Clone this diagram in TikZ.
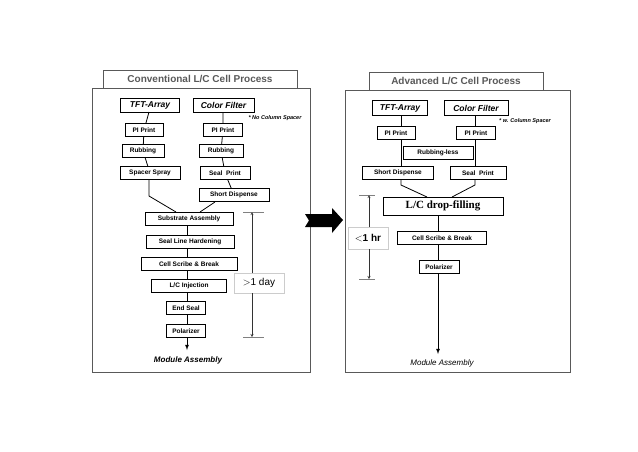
\documentclass[tikz,border=0pt]{standalone}
\usepackage{fontspec}
\setmainfont{Liberation Sans}
\newfontfamily\serifx{Liberation Serif}
\begin{document}
\begin{tikzpicture}[x=1pt,y=-1pt,
  box/.style={draw,line width=0.8pt,fill=white,inner sep=0pt,minimum height=13pt,font=\bfseries\fontsize{6.5}{7}\selectfont},
  big/.style={box,minimum height=14pt,font=\bfseries\itshape\fontsize{8.5}{9}\selectfont},
  ln/.style={line width=0.8pt},
  frame/.style={draw,line width=0.6pt,gray!70!black}]
\useasboundingbox (0,0) rectangle (638,451);
% frames
\draw[frame] (92,88) rectangle (310,372);
\node[frame,fill=white,minimum width=194pt,minimum height=18pt,font=\bfseries\fontsize{10}{11}\selectfont] (t1) at (200,79) {Conventional L/C Cell Process};
\draw[frame] (345,90) rectangle (570,372);
\node[frame,fill=white,minimum width=174pt,minimum height=18pt,font=\bfseries\fontsize{10}{11}\selectfont] (t2) at (456,81) {Advanced L/C Cell Process};
% left
\node[big,minimum width=59pt] (a1) at (150,105) {TFT-Array};
\node[big,minimum width=61pt] (c1) at (223.5,105) {Color Filter};
\node[font=\bfseries\itshape\fontsize{5.5}{6}\selectfont] (n1) at (275,118) {* No Column Spacer};
\node[box,minimum width=38pt] (pa) at (144,130) {PI Print};
\node[box,minimum width=39pt] (pc) at (223,130) {PI Print};
\node[box,minimum width=42pt] (ra) at (143,151) {Rubbing};
\node[box,minimum width=44pt] (rc) at (221,151) {Rubbing};
\node[box,minimum width=60pt] (sp) at (150,173) {Spacer Spray};
\node[box,minimum width=50pt] (sl) at (225,173) {Seal\ \ Print};
\node[box,minimum width=70pt] (sd) at (234,195) {Short Dispense};
\node[box,minimum width=88pt] (sa) at (189,219) {Substrate Assembly};
\node[box,minimum width=88pt] (sh) at (190,242) {Seal Line Hardening};
\node[box,minimum width=96pt] (cs) at (189,264) {Cell Scribe \& Break};
\node[box,minimum width=75pt] (li) at (189,286) {L/C Injection};
\node[box,minimum width=39pt] (es) at (186,308) {End Seal};
\node[box,minimum width=39pt] (po) at (186,331) {Polarizer};
\node[font=\bfseries\itshape\fontsize{8}{9}\selectfont] (ma) at (188,360) {Module Assembly};
\node[draw=gray!40,fill=white,minimum width=50pt,minimum height=20pt,font=\fontsize{10}{11}\selectfont] (d1) at (259,283) {$>$1 day};
\begin{scope}[on background layer/.style={}]
\end{scope}
\draw[ln] (149,112) -- (pa) (pa) -- (ra) (ra) -- (sp);
\draw[ln] (223,112) -- (pc) (pc) -- (rc) (rc) -- (sl) (sl) -- (sd);
\coordinate (l1) at (149,196); \coordinate (l2) at (176,212); \coordinate (r2) at (200,212);
\draw[ln] (sp.south -| l1) -- (l1) -- (l2);
\draw[ln] (215,202) -- (r2);
\draw[ln] (187,226) -- (187,235) (187,249) -- (187,257) (187,271) -- (187,279) (187,293) -- (187,301) (187,315) -- (187,324);
\coordinate (ae) at (187,350);
\draw[ln,-latex] (187,338) -- (ae);
\coordinate (tt1) at (252,212); \coordinate (tb1) at (252,337);
\draw[gray] (243,212) -- (264,212) (243,337) -- (264,337);
\draw[-stealth,gray!40!black] (252,273) -- (tt1);
\draw[-stealth,gray!40!black] (252,293) -- (tb1);
% big arrow
\fill[black] (305,214) -- (332,214) -- (332,208) -- (343,220) -- (332,233) -- (332,227) -- (305,227) -- (309,220.5) -- cycle;
% right
\node[big,minimum width=55pt,minimum height=15pt] (a2) at (400,108) {TFT-Array};
\node[big,minimum width=64pt,minimum height=15pt] (c2) at (476,108) {Color Filter};
\node[font=\bfseries\itshape\fontsize{5.5}{6}\selectfont] (n2) at (525,121) {* w. Column Spacer};
\node[box,minimum width=38pt] (qa) at (396,133) {PI Print};
\node[box,minimum width=39pt] (qc) at (476,133) {PI Print};
\node[box,minimum width=70pt] (rl) at (438,153) {Rubbing-less};
\node[box,minimum width=71pt] (sd2) at (398,173) {Short Dispense};
\node[box,minimum width=56pt] (sl2) at (478,173) {Seal\ \ Print};
\node[draw,line width=0.8pt,fill=white,minimum width=120pt,minimum height=18pt,font=\serifx\bfseries\fontsize{11}{12}\selectfont] (df) at (443,206) {L/C drop-filling};
\node[box,minimum width=89pt] (cs2) at (442,238) {Cell Scribe \& Break};
\node[box,minimum width=40pt] (po2) at (439,267) {Polarizer};
\node[font=\itshape\fontsize{8}{9}\selectfont] (ma2) at (442,363) {Module Assembly};
\node[draw=gray!40,fill=white,minimum width=40pt,minimum height=22pt,font=\bfseries\fontsize{10}{11}\selectfont] (h1) at (368,238) {$<$1 hr};
\draw[ln] (401,115.5) -- (qa.north -| 401,0) (401,140) -- (401,166);
\draw[ln] (475,115.5) -- (475,126.5) (475,140) -- (475,166);
\coordinate (m1) at (401,185); \coordinate (m2) at (427,197); \coordinate (m3) at (475,185); \coordinate (m4) at (452,197);
\draw[ln] (401,180) -- (m1) -- (m2);
\draw[ln] (475,180) -- (m3) -- (m4);
\draw[ln] (438,215) -- (cs2.north -| 438,0) (438,245) -- (438,260.5);
\coordinate (ae2) at (438,354);
\draw[ln,-latex] (438,273.5) -- (ae2);
\coordinate (tt2) at (369,195); \coordinate (tb2) at (369,279);
\draw[gray] (359,195) -- (375,195) (359,279) -- (375,279);
\draw[-stealth,gray!40!black] (369,227) -- (tt2);
\draw[-stealth,gray!40!black] (369,249) -- (tb2);
\end{tikzpicture}
\end{document}
